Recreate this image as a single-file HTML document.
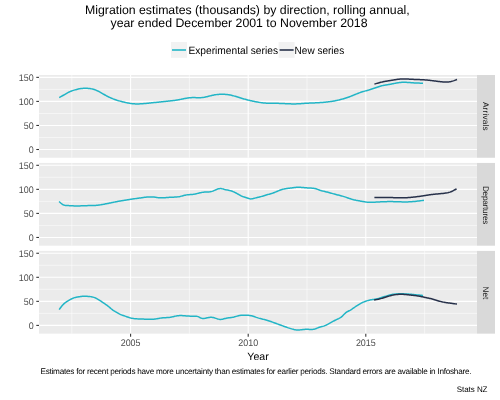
<!DOCTYPE html>
<html><head><meta charset="utf-8"><style>
html,body{margin:0;padding:0;background:#fff;width:500px;height:400px;overflow:hidden}
svg{display:block;-webkit-font-smoothing:antialiased;will-change:transform}
text{font-family:"Liberation Sans",sans-serif;text-rendering:geometricPrecision}
.ax{font-size:9.6px;fill:#4D4D4D}
.st{font-size:8.2px;fill:#1A1A1A}
.ti{font-size:12.3px;fill:#000}
.lg{font-size:10.6px;fill:#000}
.xt{font-size:10.6px;fill:#000}
.cap{font-size:8.2px;fill:#000}
.sn{font-size:8px;fill:#000}
</style></head><body>
<svg width="500" height="400" viewBox="0 0 500 400">
<rect width="500" height="400" fill="#fff"/>
<text x="85" y="14.4" class="ti">Migration estimates (thousands) by direction, rolling annual,</text>
<text x="110.5" y="27" class="ti">year ended December 2001 to November 2018</text>
<rect x="171" y="42" width="16" height="15.8" fill="#F2F2F2"/>
<line x1="172" x2="186" y1="50" y2="50" stroke="#22B5C6" stroke-width="1.6"/>
<text x="188.4" y="54" class="lg" textLength="89.6" lengthAdjust="spacingAndGlyphs">Experimental series</text>
<rect x="278.6" y="42" width="16" height="15.8" fill="#F2F2F2"/>
<line x1="279.6" x2="293.6" y1="50" y2="50" stroke="#27314A" stroke-width="1.6"/>
<text x="294.6" y="54" class="lg" textLength="49.6" lengthAdjust="spacingAndGlyphs">New series</text>
<rect x="39.00" y="75.00" width="438.00" height="82.75" fill="#EBEBEB"/>
<line x1="39.00" x2="477.00" y1="137.47" y2="137.47" stroke="#FFFFFF" stroke-width="0.53"/>
<line x1="39.00" x2="477.00" y1="113.43" y2="113.43" stroke="#FFFFFF" stroke-width="0.53"/>
<line x1="39.00" x2="477.00" y1="89.38" y2="89.38" stroke="#FFFFFF" stroke-width="0.53"/>
<line x1="71.80" x2="71.80" y1="75.00" y2="157.75" stroke="#FFFFFF" stroke-width="0.53"/>
<line x1="189.40" x2="189.40" y1="75.00" y2="157.75" stroke="#FFFFFF" stroke-width="0.53"/>
<line x1="307.00" x2="307.00" y1="75.00" y2="157.75" stroke="#FFFFFF" stroke-width="0.53"/>
<line x1="424.60" x2="424.60" y1="75.00" y2="157.75" stroke="#FFFFFF" stroke-width="0.53"/>
<line x1="39.00" x2="477.00" y1="149.50" y2="149.50" stroke="#FFFFFF" stroke-width="1.07"/>
<line x1="39.00" x2="477.00" y1="125.45" y2="125.45" stroke="#FFFFFF" stroke-width="1.07"/>
<line x1="39.00" x2="477.00" y1="101.40" y2="101.40" stroke="#FFFFFF" stroke-width="1.07"/>
<line x1="39.00" x2="477.00" y1="77.35" y2="77.35" stroke="#FFFFFF" stroke-width="1.07"/>
<line x1="130.60" x2="130.60" y1="75.00" y2="157.75" stroke="#FFFFFF" stroke-width="1.07"/>
<line x1="248.20" x2="248.20" y1="75.00" y2="157.75" stroke="#FFFFFF" stroke-width="1.07"/>
<line x1="365.80" x2="365.80" y1="75.00" y2="157.75" stroke="#FFFFFF" stroke-width="1.07"/>
<rect x="477.00" y="75.00" width="18" height="82.75" fill="#D9D9D9"/>
<line x1="36.3" x2="39" y1="149.50" y2="149.50" stroke="#333333" stroke-width="1.07"/>
<text transform="translate(33.6,152.80) scale(0.93,1)" text-anchor="end" class="ax">0</text>
<line x1="36.3" x2="39" y1="125.45" y2="125.45" stroke="#333333" stroke-width="1.07"/>
<text transform="translate(33.6,128.75) scale(0.93,1)" text-anchor="end" class="ax">50</text>
<line x1="36.3" x2="39" y1="101.40" y2="101.40" stroke="#333333" stroke-width="1.07"/>
<text transform="translate(33.6,104.70) scale(0.93,1)" text-anchor="end" class="ax">100</text>
<line x1="36.3" x2="39" y1="77.35" y2="77.35" stroke="#333333" stroke-width="1.07"/>
<text transform="translate(33.6,80.65) scale(0.93,1)" text-anchor="end" class="ax">150</text>
<text transform="translate(483.2,116.22) rotate(90)" x="-14.25" class="st" textLength="28.50" lengthAdjust="spacing">Arrivals</text>
<rect x="39.00" y="162.95" width="438.00" height="82.75" fill="#EBEBEB"/>
<line x1="39.00" x2="477.00" y1="225.42" y2="225.42" stroke="#FFFFFF" stroke-width="0.53"/>
<line x1="39.00" x2="477.00" y1="201.38" y2="201.38" stroke="#FFFFFF" stroke-width="0.53"/>
<line x1="39.00" x2="477.00" y1="177.32" y2="177.32" stroke="#FFFFFF" stroke-width="0.53"/>
<line x1="71.80" x2="71.80" y1="162.95" y2="245.70" stroke="#FFFFFF" stroke-width="0.53"/>
<line x1="189.40" x2="189.40" y1="162.95" y2="245.70" stroke="#FFFFFF" stroke-width="0.53"/>
<line x1="307.00" x2="307.00" y1="162.95" y2="245.70" stroke="#FFFFFF" stroke-width="0.53"/>
<line x1="424.60" x2="424.60" y1="162.95" y2="245.70" stroke="#FFFFFF" stroke-width="0.53"/>
<line x1="39.00" x2="477.00" y1="237.45" y2="237.45" stroke="#FFFFFF" stroke-width="1.07"/>
<line x1="39.00" x2="477.00" y1="213.40" y2="213.40" stroke="#FFFFFF" stroke-width="1.07"/>
<line x1="39.00" x2="477.00" y1="189.35" y2="189.35" stroke="#FFFFFF" stroke-width="1.07"/>
<line x1="39.00" x2="477.00" y1="165.30" y2="165.30" stroke="#FFFFFF" stroke-width="1.07"/>
<line x1="130.60" x2="130.60" y1="162.95" y2="245.70" stroke="#FFFFFF" stroke-width="1.07"/>
<line x1="248.20" x2="248.20" y1="162.95" y2="245.70" stroke="#FFFFFF" stroke-width="1.07"/>
<line x1="365.80" x2="365.80" y1="162.95" y2="245.70" stroke="#FFFFFF" stroke-width="1.07"/>
<rect x="477.00" y="162.95" width="18" height="82.75" fill="#D9D9D9"/>
<line x1="36.3" x2="39" y1="237.45" y2="237.45" stroke="#333333" stroke-width="1.07"/>
<text transform="translate(33.6,240.75) scale(0.93,1)" text-anchor="end" class="ax">0</text>
<line x1="36.3" x2="39" y1="213.40" y2="213.40" stroke="#333333" stroke-width="1.07"/>
<text transform="translate(33.6,216.70) scale(0.93,1)" text-anchor="end" class="ax">50</text>
<line x1="36.3" x2="39" y1="189.35" y2="189.35" stroke="#333333" stroke-width="1.07"/>
<text transform="translate(33.6,192.65) scale(0.93,1)" text-anchor="end" class="ax">100</text>
<line x1="36.3" x2="39" y1="165.30" y2="165.30" stroke="#333333" stroke-width="1.07"/>
<text transform="translate(33.6,168.60) scale(0.93,1)" text-anchor="end" class="ax">150</text>
<text transform="translate(483.2,205.12) rotate(90)" x="-19.20" class="st" textLength="38.40" lengthAdjust="spacing">Departures</text>
<rect x="39.00" y="250.90" width="438.00" height="82.75" fill="#EBEBEB"/>
<line x1="39.00" x2="477.00" y1="313.38" y2="313.38" stroke="#FFFFFF" stroke-width="0.53"/>
<line x1="39.00" x2="477.00" y1="289.32" y2="289.32" stroke="#FFFFFF" stroke-width="0.53"/>
<line x1="39.00" x2="477.00" y1="265.27" y2="265.27" stroke="#FFFFFF" stroke-width="0.53"/>
<line x1="71.80" x2="71.80" y1="250.90" y2="333.65" stroke="#FFFFFF" stroke-width="0.53"/>
<line x1="189.40" x2="189.40" y1="250.90" y2="333.65" stroke="#FFFFFF" stroke-width="0.53"/>
<line x1="307.00" x2="307.00" y1="250.90" y2="333.65" stroke="#FFFFFF" stroke-width="0.53"/>
<line x1="424.60" x2="424.60" y1="250.90" y2="333.65" stroke="#FFFFFF" stroke-width="0.53"/>
<line x1="39.00" x2="477.00" y1="325.40" y2="325.40" stroke="#FFFFFF" stroke-width="1.07"/>
<line x1="39.00" x2="477.00" y1="301.35" y2="301.35" stroke="#FFFFFF" stroke-width="1.07"/>
<line x1="39.00" x2="477.00" y1="277.30" y2="277.30" stroke="#FFFFFF" stroke-width="1.07"/>
<line x1="39.00" x2="477.00" y1="253.25" y2="253.25" stroke="#FFFFFF" stroke-width="1.07"/>
<line x1="130.60" x2="130.60" y1="250.90" y2="333.65" stroke="#FFFFFF" stroke-width="1.07"/>
<line x1="248.20" x2="248.20" y1="250.90" y2="333.65" stroke="#FFFFFF" stroke-width="1.07"/>
<line x1="365.80" x2="365.80" y1="250.90" y2="333.65" stroke="#FFFFFF" stroke-width="1.07"/>
<rect x="477.00" y="250.90" width="18" height="82.75" fill="#D9D9D9"/>
<line x1="36.3" x2="39" y1="325.40" y2="325.40" stroke="#333333" stroke-width="1.07"/>
<text transform="translate(33.6,328.70) scale(0.93,1)" text-anchor="end" class="ax">0</text>
<line x1="36.3" x2="39" y1="301.35" y2="301.35" stroke="#333333" stroke-width="1.07"/>
<text transform="translate(33.6,304.65) scale(0.93,1)" text-anchor="end" class="ax">50</text>
<line x1="36.3" x2="39" y1="277.30" y2="277.30" stroke="#333333" stroke-width="1.07"/>
<text transform="translate(33.6,280.60) scale(0.93,1)" text-anchor="end" class="ax">100</text>
<line x1="36.3" x2="39" y1="253.25" y2="253.25" stroke="#333333" stroke-width="1.07"/>
<text transform="translate(33.6,256.55) scale(0.93,1)" text-anchor="end" class="ax">150</text>
<text transform="translate(483.2,292.97) rotate(90)" x="-6.40" class="st" textLength="12.80" lengthAdjust="spacing">Net</text>
<path d="M59.20,97.60 L60.03,97.13 L60.86,96.67 L61.69,96.20 L62.51,95.73 L63.34,95.25 L64.17,94.78 L65.00,94.30 L65.83,93.82 L66.67,93.33 L67.50,92.86 L68.33,92.41 L69.17,91.99 L70.00,91.60 L70.83,91.25 L71.67,90.93 L72.50,90.65 L73.33,90.39 L74.17,90.14 L75.00,89.90 L75.83,89.67 L76.67,89.44 L77.50,89.23 L78.33,89.03 L79.17,88.85 L80.00,88.70 L80.83,88.57 L81.67,88.48 L82.50,88.40 L83.33,88.35 L84.17,88.31 L85.00,88.30 L85.83,88.30 L86.67,88.32 L87.50,88.36 L88.33,88.42 L89.17,88.50 L90.00,88.60 L90.83,88.73 L91.67,88.88 L92.50,89.07 L93.33,89.28 L94.17,89.52 L95.00,89.80 L95.83,90.11 L96.67,90.45 L97.50,90.83 L98.33,91.23 L99.17,91.65 L100.00,92.10 L100.83,92.57 L101.67,93.05 L102.50,93.54 L103.33,94.03 L104.17,94.52 L105.00,95.00 L105.75,95.42 L106.50,95.83 L107.25,96.22 L108.00,96.60 L108.75,96.97 L109.50,97.33 L110.25,97.67 L111.00,98.00 L111.75,98.32 L112.50,98.62 L113.25,98.92 L114.00,99.20 L114.75,99.47 L115.50,99.73 L116.25,99.98 L117.00,100.23 L117.75,100.46 L118.50,100.69 L119.25,100.90 L120.00,101.12 L120.75,101.32 L121.50,101.52 L122.25,101.71 L123.00,101.90 L123.77,102.09 L124.54,102.27 L125.31,102.45 L126.09,102.62 L126.86,102.78 L127.63,102.94 L128.40,103.08 L129.17,103.22 L129.94,103.35 L130.71,103.46 L131.49,103.57 L132.26,103.66 L133.03,103.74 L133.80,103.80 L134.57,103.85 L135.34,103.89 L136.11,103.91 L136.89,103.92 L137.66,103.93 L138.43,103.92 L139.20,103.90 L139.97,103.87 L140.74,103.83 L141.51,103.78 L142.29,103.73 L143.06,103.67 L143.83,103.61 L144.60,103.54 L145.37,103.47 L146.14,103.40 L146.91,103.32 L147.69,103.24 L148.46,103.16 L149.23,103.08 L150.00,103.00 L150.77,102.92 L151.54,102.84 L152.31,102.77 L153.08,102.69 L153.85,102.62 L154.62,102.54 L155.38,102.47 L156.15,102.39 L156.92,102.31 L157.69,102.24 L158.46,102.16 L159.23,102.08 L160.00,102.00 L160.77,101.92 L161.54,101.83 L162.31,101.75 L163.08,101.66 L163.85,101.58 L164.62,101.49 L165.38,101.40 L166.15,101.32 L166.92,101.23 L167.69,101.15 L168.46,101.06 L169.23,100.98 L170.00,100.90 L170.75,100.82 L171.50,100.75 L172.25,100.67 L173.00,100.58 L173.75,100.50 L174.50,100.41 L175.25,100.31 L176.00,100.20 L176.76,100.08 L177.52,99.95 L178.29,99.81 L179.05,99.67 L179.81,99.52 L180.57,99.37 L181.33,99.21 L182.10,99.06 L182.86,98.90 L183.62,98.75 L184.38,98.60 L185.14,98.45 L185.90,98.31 L186.67,98.18 L187.43,98.06 L188.19,97.95 L188.95,97.85 L189.71,97.76 L190.48,97.69 L191.24,97.64 L192.00,97.60 L192.80,97.58 L193.60,97.58 L194.40,97.59 L195.20,97.61 L196.00,97.63 L196.80,97.66 L197.60,97.68 L198.40,97.70 L199.20,97.70 L200.00,97.69 L200.80,97.66 L201.60,97.60 L202.38,97.52 L203.15,97.42 L203.92,97.30 L204.70,97.16 L205.47,97.00 L206.25,96.83 L207.03,96.65 L207.80,96.46 L208.57,96.27 L209.35,96.08 L210.12,95.88 L210.90,95.69 L211.68,95.50 L212.45,95.32 L213.22,95.16 L214.00,95.00 L214.77,94.86 L215.54,94.74 L216.31,94.63 L217.08,94.53 L217.85,94.45 L218.62,94.39 L219.38,94.34 L220.15,94.30 L220.92,94.27 L221.69,94.26 L222.46,94.26 L223.23,94.27 L224.00,94.30 L224.83,94.34 L225.67,94.40 L226.50,94.47 L227.33,94.56 L228.17,94.67 L229.00,94.80 L229.79,94.94 L230.57,95.10 L231.36,95.28 L232.14,95.47 L232.93,95.67 L233.71,95.89 L234.50,96.11 L235.29,96.34 L236.07,96.58 L236.86,96.82 L237.64,97.07 L238.43,97.31 L239.21,97.56 L240.00,97.80 L240.76,98.03 L241.52,98.26 L242.29,98.48 L243.05,98.70 L243.81,98.92 L244.57,99.13 L245.33,99.33 L246.10,99.54 L246.86,99.74 L247.62,99.93 L248.38,100.12 L249.14,100.31 L249.90,100.49 L250.67,100.67 L251.43,100.84 L252.19,101.01 L252.95,101.18 L253.71,101.34 L254.48,101.50 L255.24,101.65 L256.00,101.80 L256.80,101.95 L257.60,102.10 L258.40,102.24 L259.20,102.37 L260.00,102.50 L260.80,102.62 L261.60,102.73 L262.40,102.83 L263.20,102.92 L264.00,103.00 L264.76,103.07 L265.52,103.12 L266.29,103.17 L267.05,103.21 L267.81,103.25 L268.57,103.27 L269.33,103.30 L270.10,103.31 L270.86,103.32 L271.62,103.33 L272.38,103.34 L273.14,103.34 L273.90,103.34 L274.67,103.35 L275.43,103.35 L276.19,103.35 L276.95,103.35 L277.71,103.36 L278.48,103.37 L279.24,103.38 L280.00,103.40 L280.76,103.42 L281.52,103.45 L282.29,103.48 L283.05,103.51 L283.81,103.55 L284.57,103.59 L285.33,103.63 L286.10,103.66 L286.86,103.70 L287.62,103.74 L288.38,103.78 L289.14,103.81 L289.90,103.84 L290.67,103.87 L291.43,103.89 L292.19,103.91 L292.95,103.92 L293.71,103.93 L294.48,103.93 L295.24,103.92 L296.00,103.90 L296.80,103.87 L297.60,103.84 L298.40,103.79 L299.20,103.74 L300.00,103.69 L300.80,103.63 L301.60,103.57 L302.40,103.51 L303.20,103.46 L304.00,103.40 L304.76,103.35 L305.52,103.30 L306.29,103.26 L307.05,103.22 L307.81,103.18 L308.57,103.14 L309.33,103.11 L310.10,103.07 L310.86,103.04 L311.62,103.01 L312.38,102.98 L313.14,102.94 L313.90,102.91 L314.67,102.88 L315.43,102.84 L316.19,102.81 L316.95,102.77 L317.71,102.73 L318.48,102.69 L319.24,102.65 L320.00,102.60 L320.76,102.55 L321.52,102.50 L322.29,102.44 L323.05,102.38 L323.81,102.31 L324.57,102.24 L325.33,102.17 L326.10,102.09 L326.86,102.01 L327.62,101.92 L328.38,101.83 L329.14,101.73 L329.90,101.63 L330.67,101.52 L331.43,101.41 L332.19,101.29 L332.95,101.17 L333.71,101.03 L334.48,100.90 L335.24,100.75 L336.00,100.60 L336.76,100.44 L337.52,100.28 L338.29,100.11 L339.05,99.93 L339.81,99.74 L340.57,99.55 L341.33,99.35 L342.10,99.14 L342.86,98.93 L343.62,98.71 L344.38,98.48 L345.14,98.24 L345.90,98.00 L346.67,97.75 L347.43,97.49 L348.19,97.23 L348.95,96.96 L349.71,96.68 L350.48,96.39 L351.24,96.10 L352.00,95.80 L352.80,95.48 L353.60,95.15 L354.40,94.81 L355.20,94.48 L356.00,94.15 L356.80,93.82 L357.60,93.50 L358.40,93.19 L359.20,92.89 L360.00,92.60 L360.80,92.33 L361.60,92.07 L362.40,91.82 L363.20,91.59 L364.00,91.35 L364.80,91.13 L365.60,90.90 L366.40,90.67 L367.20,90.44 L368.00,90.20 L368.76,89.97 L369.52,89.72 L370.29,89.48 L371.05,89.22 L371.81,88.97 L372.57,88.71 L373.33,88.45 L374.10,88.19 L374.86,87.93 L375.62,87.68 L376.38,87.42 L377.14,87.17 L377.90,86.93 L378.67,86.69 L379.43,86.46 L380.19,86.24 L380.95,86.03 L381.71,85.83 L382.48,85.64 L383.24,85.46 L384.00,85.30 L384.75,85.15 L385.50,85.02 L386.25,84.90 L387.00,84.78 L387.75,84.66 L388.50,84.55 L389.25,84.43 L390.00,84.30 L390.79,84.16 L391.57,84.01 L392.36,83.86 L393.14,83.70 L393.93,83.54 L394.71,83.38 L395.50,83.22 L396.29,83.07 L397.07,82.93 L397.86,82.80 L398.64,82.67 L399.43,82.57 L400.21,82.47 L401.00,82.40 L401.76,82.35 L402.53,82.31 L403.29,82.29 L404.06,82.29 L404.82,82.30 L405.59,82.32 L406.35,82.35 L407.12,82.39 L407.88,82.44 L408.65,82.49 L409.41,82.55 L410.18,82.61 L410.94,82.67 L411.71,82.73 L412.47,82.79 L413.24,82.85 L414.00,82.90 L414.75,82.95 L415.50,82.99 L416.25,83.02 L417.00,83.05 L417.75,83.08 L418.50,83.10 L419.25,83.12 L420.00,83.14 L420.75,83.16 L421.50,83.17 L422.25,83.19 L423.00,83.20" fill="none" stroke="#22B5C6" stroke-width="1.5"/>
<path d="M59.10,201.50 L59.92,202.29 L60.75,203.04 L61.58,203.72 L62.40,204.30 L63.17,204.72 L63.95,205.03 L64.72,205.26 L65.50,205.41 L66.27,205.50 L67.05,205.55 L67.82,205.58 L68.60,205.60 L69.36,205.63 L70.13,205.67 L70.89,205.71 L71.65,205.76 L72.42,205.81 L73.18,205.86 L73.95,205.90 L74.71,205.94 L75.47,205.97 L76.24,205.99 L77.00,206.00 L77.78,205.99 L78.56,205.97 L79.33,205.94 L80.11,205.91 L80.89,205.86 L81.67,205.82 L82.44,205.78 L83.22,205.73 L84.00,205.70 L84.78,205.67 L85.56,205.65 L86.33,205.64 L87.11,205.63 L87.89,205.62 L88.67,205.62 L89.44,205.62 L90.22,205.61 L91.00,205.60 L91.78,205.59 L92.56,205.57 L93.33,205.54 L94.11,205.51 L94.89,205.47 L95.67,205.42 L96.44,205.36 L97.22,205.29 L98.00,205.20 L98.78,205.10 L99.56,204.99 L100.33,204.87 L101.11,204.74 L101.89,204.60 L102.67,204.45 L103.44,204.31 L104.22,204.15 L105.00,204.00 L105.78,203.85 L106.56,203.69 L107.33,203.54 L108.11,203.39 L108.89,203.23 L109.67,203.08 L110.44,202.92 L111.22,202.76 L112.00,202.60 L112.78,202.44 L113.56,202.28 L114.33,202.11 L115.11,201.95 L115.89,201.79 L116.67,201.64 L117.44,201.49 L118.22,201.34 L119.00,201.20 L119.78,201.07 L120.56,200.94 L121.33,200.82 L122.11,200.70 L122.89,200.59 L123.67,200.47 L124.44,200.35 L125.22,200.23 L126.00,200.10 L126.77,199.97 L127.53,199.83 L128.30,199.70 L129.07,199.56 L129.83,199.43 L130.60,199.30 L131.38,199.18 L132.17,199.06 L132.95,198.95 L133.73,198.84 L134.52,198.73 L135.30,198.63 L136.08,198.53 L136.87,198.43 L137.65,198.32 L138.43,198.22 L139.22,198.11 L140.00,198.00 L140.75,197.89 L141.50,197.77 L142.25,197.66 L143.00,197.54 L143.75,197.43 L144.50,197.33 L145.25,197.23 L146.00,197.14 L146.75,197.06 L147.50,196.99 L148.25,196.94 L149.00,196.90 L149.75,196.88 L150.50,196.88 L151.25,196.90 L152.00,196.93 L152.75,196.98 L153.50,197.04 L154.25,197.11 L155.00,197.20 L155.83,197.31 L156.67,197.42 L157.50,197.54 L158.33,197.64 L159.17,197.73 L160.00,197.80 L160.77,197.84 L161.54,197.85 L162.31,197.84 L163.08,197.82 L163.85,197.78 L164.62,197.73 L165.38,197.68 L166.15,197.61 L166.92,197.54 L167.69,197.48 L168.46,197.41 L169.23,197.35 L170.00,197.30 L170.77,197.26 L171.54,197.22 L172.31,197.19 L173.08,197.17 L173.85,197.14 L174.62,197.11 L175.38,197.07 L176.15,197.02 L176.92,196.95 L177.69,196.87 L178.46,196.77 L179.23,196.65 L180.00,196.50 L180.75,196.33 L181.50,196.14 L182.25,195.94 L183.00,195.73 L183.75,195.53 L184.50,195.33 L185.25,195.15 L186.00,195.00 L186.80,194.87 L187.60,194.77 L188.40,194.69 L189.20,194.63 L190.00,194.58 L190.80,194.53 L191.60,194.47 L192.40,194.40 L193.20,194.31 L194.00,194.20 L194.75,194.07 L195.50,193.91 L196.25,193.73 L197.00,193.55 L197.75,193.35 L198.50,193.16 L199.25,192.98 L200.00,192.80 L200.75,192.64 L201.50,192.50 L202.25,192.37 L203.00,192.26 L203.75,192.17 L204.50,192.10 L205.25,192.04 L206.00,192.00 L206.75,191.97 L207.50,191.95 L208.25,191.93 L209.00,191.89 L209.75,191.83 L210.50,191.74 L211.25,191.60 L212.00,191.40 L212.80,191.12 L213.60,190.80 L214.40,190.43 L215.20,190.06 L216.00,189.70 L216.83,189.35 L217.67,189.06 L218.50,188.82 L219.33,188.65 L220.17,188.58 L221.00,188.60 L221.75,188.71 L222.50,188.89 L223.25,189.09 L224.00,189.30 L224.75,189.49 L225.50,189.65 L226.25,189.81 L227.00,189.95 L227.75,190.10 L228.50,190.25 L229.25,190.41 L230.00,190.60 L230.75,190.81 L231.50,191.05 L232.25,191.31 L233.00,191.60 L233.75,191.92 L234.50,192.26 L235.25,192.62 L236.00,193.00 L236.75,193.40 L237.50,193.82 L238.25,194.25 L239.00,194.67 L239.75,195.08 L240.50,195.48 L241.25,195.86 L242.00,196.20 L242.75,196.51 L243.50,196.78 L244.25,197.03 L245.00,197.27 L245.75,197.50 L246.50,197.72 L247.25,197.95 L248.00,198.20 L249.00,198.54 L250.00,198.80 L250.83,198.88 L251.67,198.85 L252.50,198.73 L253.33,198.55 L254.17,198.33 L255.00,198.10 L255.75,197.90 L256.50,197.71 L257.25,197.53 L258.00,197.35 L258.75,197.17 L259.50,196.99 L260.25,196.80 L261.00,196.60 L261.75,196.39 L262.50,196.17 L263.25,195.95 L264.00,195.72 L264.75,195.48 L265.50,195.25 L266.25,195.02 L267.00,194.80 L267.75,194.58 L268.50,194.37 L269.25,194.16 L270.00,193.95 L270.75,193.73 L271.50,193.50 L272.25,193.26 L273.00,193.00 L273.75,192.72 L274.50,192.43 L275.25,192.13 L276.00,191.82 L276.75,191.51 L277.50,191.20 L278.25,190.90 L279.00,190.60 L279.75,190.32 L280.50,190.05 L281.25,189.79 L282.00,189.56 L282.75,189.34 L283.50,189.14 L284.25,188.96 L285.00,188.80 L285.75,188.66 L286.50,188.54 L287.25,188.44 L288.00,188.35 L288.75,188.26 L289.50,188.18 L290.25,188.09 L291.00,188.00 L291.75,187.90 L292.50,187.80 L293.25,187.70 L294.00,187.60 L294.75,187.50 L295.50,187.42 L296.25,187.35 L297.00,187.30 L297.75,187.27 L298.50,187.26 L299.25,187.27 L300.00,187.30 L300.75,187.33 L301.50,187.38 L302.25,187.44 L303.00,187.50 L303.75,187.57 L304.50,187.63 L305.25,187.70 L306.00,187.77 L306.75,187.84 L307.50,187.90 L308.25,187.95 L309.00,188.00 L309.75,188.04 L310.50,188.08 L311.25,188.12 L312.00,188.17 L312.75,188.24 L313.50,188.33 L314.25,188.45 L315.00,188.60 L315.83,188.81 L316.67,189.06 L317.50,189.34 L318.33,189.63 L319.17,189.92 L320.00,190.20 L320.80,190.45 L321.60,190.69 L322.40,190.91 L323.20,191.12 L324.00,191.32 L324.80,191.52 L325.60,191.71 L326.40,191.90 L327.20,192.10 L328.00,192.30 L328.80,192.51 L329.60,192.72 L330.40,192.94 L331.20,193.17 L332.00,193.39 L332.80,193.62 L333.60,193.85 L334.40,194.07 L335.20,194.29 L336.00,194.50 L336.80,194.71 L337.60,194.91 L338.40,195.10 L339.20,195.30 L340.00,195.50 L340.80,195.70 L341.60,195.91 L342.40,196.13 L343.20,196.36 L344.00,196.60 L344.80,196.86 L345.60,197.13 L346.40,197.41 L347.20,197.69 L348.00,197.97 L348.80,198.26 L349.60,198.53 L350.40,198.80 L351.20,199.06 L352.00,199.30 L352.80,199.52 L353.60,199.73 L354.40,199.92 L355.20,200.09 L356.00,200.26 L356.80,200.41 L357.60,200.56 L358.40,200.71 L359.20,200.86 L360.00,201.00 L360.80,201.15 L361.60,201.29 L362.40,201.44 L363.20,201.58 L364.00,201.71 L364.80,201.84 L365.60,201.95 L366.40,202.05 L367.20,202.13 L368.00,202.20 L368.80,202.25 L369.60,202.28 L370.40,202.29 L371.20,202.29 L372.00,202.27 L372.80,202.25 L373.60,202.22 L374.40,202.18 L375.20,202.14 L376.00,202.10 L376.76,202.06 L377.52,202.02 L378.29,201.98 L379.05,201.94 L379.81,201.90 L380.57,201.86 L381.33,201.83 L382.10,201.79 L382.86,201.76 L383.62,201.73 L384.38,201.71 L385.14,201.68 L385.90,201.66 L386.67,201.64 L387.43,201.62 L388.19,201.61 L388.95,201.60 L389.71,201.59 L390.48,201.59 L391.24,201.59 L392.00,201.60 L392.76,201.61 L393.52,201.63 L394.29,201.65 L395.05,201.67 L395.81,201.69 L396.57,201.72 L397.33,201.74 L398.10,201.77 L398.86,201.80 L399.62,201.82 L400.38,201.85 L401.14,201.87 L401.90,201.89 L402.67,201.91 L403.43,201.92 L404.19,201.93 L404.95,201.94 L405.71,201.94 L406.48,201.93 L407.24,201.92 L408.00,201.90 L408.80,201.87 L409.60,201.83 L410.40,201.79 L411.20,201.74 L412.00,201.68 L412.80,201.61 L413.60,201.54 L414.40,201.47 L415.20,201.39 L416.00,201.30 L416.80,201.21 L417.60,201.12 L418.40,201.02 L419.20,200.92 L420.00,200.82 L420.80,200.72 L421.60,200.62 L422.40,200.51 L423.20,200.41 L424.00,200.30" fill="none" stroke="#22B5C6" stroke-width="1.5"/>
<path d="M59.20,309.60 L59.96,308.54 L60.72,307.49 L61.48,306.49 L62.24,305.56 L63.00,304.70 L63.83,303.87 L64.67,303.15 L65.50,302.52 L66.33,301.94 L67.17,301.41 L68.00,300.90 L68.83,300.39 L69.67,299.90 L70.50,299.42 L71.33,298.97 L72.17,298.56 L73.00,298.20 L73.83,297.89 L74.67,297.63 L75.50,297.40 L76.33,297.21 L77.17,297.05 L78.00,296.90 L78.83,296.76 L79.67,296.64 L80.50,296.52 L81.33,296.43 L82.17,296.35 L83.00,296.30 L83.83,296.27 L84.67,296.27 L85.50,296.28 L86.33,296.31 L87.17,296.35 L88.00,296.40 L88.83,296.46 L89.67,296.53 L90.50,296.62 L91.33,296.74 L92.17,296.90 L93.00,297.10 L93.83,297.35 L94.67,297.65 L95.50,298.00 L96.33,298.39 L97.17,298.83 L98.00,299.30 L98.83,299.81 L99.67,300.34 L100.50,300.90 L101.33,301.46 L102.17,302.03 L103.00,302.60 L103.83,303.16 L104.67,303.72 L105.50,304.28 L106.33,304.86 L107.17,305.46 L108.00,306.10 L108.80,306.75 L109.60,307.42 L110.40,308.09 L111.20,308.76 L112.00,309.40 L112.84,310.03 L113.68,310.62 L114.52,311.17 L115.36,311.70 L116.20,312.20 L117.08,312.71 L117.96,313.20 L118.84,313.67 L119.72,314.10 L120.60,314.50 L121.48,314.86 L122.36,315.19 L123.24,315.50 L124.12,315.80 L125.00,316.10 L125.83,316.40 L126.67,316.70 L127.50,317.00 L128.33,317.28 L129.17,317.56 L130.00,317.80 L130.80,318.01 L131.60,318.18 L132.40,318.34 L133.20,318.46 L134.00,318.57 L134.80,318.66 L135.60,318.74 L136.40,318.80 L137.20,318.86 L138.00,318.90 L138.80,318.94 L139.60,318.97 L140.40,319.01 L141.20,319.03 L142.00,319.06 L142.80,319.09 L143.60,319.11 L144.40,319.14 L145.20,319.17 L146.00,319.20 L146.80,319.23 L147.60,319.27 L148.40,319.30 L149.20,319.33 L150.00,319.34 L150.80,319.35 L151.60,319.34 L152.40,319.32 L153.20,319.27 L154.00,319.20 L154.80,319.10 L155.60,318.99 L156.40,318.86 L157.20,318.71 L158.00,318.56 L158.80,318.41 L159.60,318.26 L160.40,318.13 L161.20,318.00 L162.00,317.90 L162.80,317.82 L163.60,317.76 L164.40,317.71 L165.20,317.67 L166.00,317.63 L166.80,317.59 L167.60,317.55 L168.40,317.49 L169.20,317.40 L170.00,317.30 L170.80,317.17 L171.60,317.01 L172.40,316.84 L173.20,316.65 L174.00,316.47 L174.80,316.28 L175.60,316.11 L176.40,315.95 L177.20,315.81 L178.00,315.70 L178.80,315.63 L179.60,315.58 L180.40,315.57 L181.20,315.58 L182.00,315.60 L182.80,315.65 L183.60,315.70 L184.40,315.77 L185.20,315.83 L186.00,315.90 L186.80,315.96 L187.60,316.02 L188.40,316.07 L189.20,316.12 L190.00,316.16 L190.80,316.18 L191.60,316.20 L192.40,316.21 L193.20,316.21 L194.00,316.20 L194.80,316.18 L195.60,316.18 L196.40,316.23 L197.20,316.36 L198.00,316.60 L198.75,316.94 L199.50,317.35 L200.25,317.76 L201.00,318.10 L201.77,318.33 L202.54,318.45 L203.31,318.48 L204.09,318.43 L204.86,318.32 L205.63,318.17 L206.40,318.00 L207.15,317.84 L207.90,317.68 L208.65,317.54 L209.40,317.43 L210.15,317.35 L210.90,317.31 L211.65,317.33 L212.40,317.40 L213.30,317.57 L214.20,317.81 L215.10,318.10 L216.00,318.40 L216.80,318.66 L217.60,318.91 L218.40,319.12 L219.20,319.28 L220.00,319.38 L220.80,319.40 L221.60,319.34 L222.40,319.21 L223.20,319.03 L224.00,318.82 L224.80,318.60 L225.60,318.40 L226.36,318.23 L227.13,318.09 L227.89,317.97 L228.65,317.86 L229.42,317.75 L230.18,317.66 L230.95,317.55 L231.71,317.44 L232.47,317.32 L233.24,317.17 L234.00,317.00 L234.75,316.80 L235.50,316.59 L236.25,316.36 L237.00,316.13 L237.75,315.92 L238.50,315.71 L239.25,315.54 L240.00,315.40 L240.80,315.30 L241.60,315.24 L242.40,315.21 L243.20,315.20 L244.00,315.20 L244.75,315.20 L245.50,315.20 L246.25,315.20 L247.00,315.22 L247.75,315.25 L248.50,315.31 L249.25,315.39 L250.00,315.50 L250.80,315.66 L251.60,315.84 L252.40,316.06 L253.20,316.30 L254.00,316.56 L254.80,316.83 L255.60,317.10 L256.40,317.38 L257.20,317.64 L258.00,317.90 L258.80,318.14 L259.60,318.36 L260.40,318.57 L261.20,318.78 L262.00,318.98 L262.80,319.17 L263.60,319.37 L264.40,319.57 L265.20,319.78 L266.00,320.00 L266.80,320.23 L267.60,320.48 L268.40,320.73 L269.20,321.00 L270.00,321.27 L270.80,321.55 L271.60,321.83 L272.40,322.12 L273.20,322.41 L274.00,322.70 L274.80,322.99 L275.60,323.28 L276.40,323.57 L277.20,323.86 L278.00,324.15 L278.80,324.44 L279.60,324.73 L280.40,325.02 L281.20,325.31 L282.00,325.60 L282.80,325.89 L283.60,326.18 L284.40,326.47 L285.20,326.76 L286.00,327.04 L286.80,327.33 L287.60,327.60 L288.40,327.88 L289.20,328.14 L290.00,328.40 L290.80,328.65 L291.60,328.89 L292.40,329.12 L293.20,329.32 L294.00,329.51 L294.80,329.67 L295.60,329.80 L296.40,329.90 L297.20,329.97 L298.00,330.00 L298.80,329.99 L299.60,329.94 L300.40,329.87 L301.20,329.78 L302.00,329.68 L302.80,329.58 L303.60,329.48 L304.40,329.40 L305.20,329.33 L306.00,329.30 L306.80,329.30 L307.60,329.32 L308.40,329.36 L309.20,329.41 L310.00,329.45 L310.80,329.47 L311.60,329.47 L312.40,329.43 L313.20,329.34 L314.00,329.20 L314.77,329.00 L315.54,328.75 L316.31,328.47 L317.09,328.17 L317.86,327.86 L318.63,327.57 L319.40,327.30 L320.26,327.04 L321.12,326.82 L321.98,326.60 L322.84,326.37 L323.70,326.10 L324.58,325.78 L325.46,325.41 L326.34,325.00 L327.22,324.56 L328.10,324.10 L328.98,323.63 L329.86,323.16 L330.74,322.67 L331.62,322.19 L332.50,321.70 L333.38,321.21 L334.26,320.73 L335.14,320.26 L336.02,319.82 L336.90,319.40 L337.76,319.02 L338.62,318.64 L339.48,318.21 L340.34,317.71 L341.20,317.10 L342.08,316.33 L342.96,315.46 L343.84,314.56 L344.72,313.69 L345.60,312.90 L346.48,312.24 L347.36,311.70 L348.24,311.22 L349.12,310.77 L350.00,310.30 L350.83,309.82 L351.67,309.29 L352.50,308.74 L353.33,308.17 L354.17,307.58 L355.00,307.00 L355.83,306.42 L356.67,305.86 L357.50,305.31 L358.33,304.78 L359.17,304.28 L360.00,303.80 L360.83,303.35 L361.67,302.93 L362.50,302.54 L363.33,302.17 L364.17,301.83 L365.00,301.50 L365.83,301.19 L366.67,300.91 L367.50,300.64 L368.33,300.40 L369.17,300.19 L370.00,300.00 L370.83,299.84 L371.67,299.70 L372.50,299.58 L373.33,299.46 L374.17,299.34 L375.00,299.20 L375.83,299.04 L376.67,298.87 L377.50,298.67 L378.33,298.46 L379.17,298.24 L380.00,298.00 L380.75,297.78 L381.50,297.55 L382.25,297.31 L383.00,297.07 L383.75,296.82 L384.50,296.58 L385.25,296.34 L386.00,296.10 L386.75,295.86 L387.50,295.64 L388.25,295.42 L389.00,295.21 L389.75,295.01 L390.50,294.82 L391.25,294.65 L392.00,294.50 L392.75,294.36 L393.50,294.25 L394.25,294.15 L395.00,294.06 L395.75,293.99 L396.50,293.93 L397.25,293.88 L398.00,293.85 L398.75,293.82 L399.50,293.81 L400.25,293.80 L401.00,293.80 L401.75,293.80 L402.50,293.82 L403.25,293.83 L404.00,293.85 L404.75,293.88 L405.50,293.91 L406.25,293.95 L407.00,293.99 L407.75,294.04 L408.50,294.09 L409.25,294.14 L410.00,294.20 L410.77,294.26 L411.54,294.33 L412.31,294.40 L413.08,294.48 L413.85,294.55 L414.62,294.63 L415.38,294.71 L416.15,294.79 L416.92,294.88 L417.69,294.96 L418.46,295.04 L419.23,295.12 L420.00,295.20 L420.75,295.28 L421.50,295.35 L422.25,295.43 L423.00,295.50" fill="none" stroke="#22B5C6" stroke-width="1.5"/>
<path d="M374.40,84.10 L375.20,83.87 L376.00,83.63 L376.80,83.40 L377.60,83.18 L378.40,82.95 L379.20,82.74 L380.00,82.53 L380.80,82.32 L381.60,82.13 L382.40,81.94 L383.20,81.76 L384.00,81.60 L384.75,81.46 L385.50,81.32 L386.25,81.20 L387.00,81.07 L387.75,80.96 L388.50,80.84 L389.25,80.72 L390.00,80.60 L390.77,80.47 L391.54,80.34 L392.31,80.21 L393.08,80.07 L393.85,79.94 L394.62,79.81 L395.38,79.68 L396.15,79.56 L396.92,79.45 L397.69,79.35 L398.46,79.25 L399.23,79.17 L400.00,79.10 L400.78,79.04 L401.56,79.00 L402.33,78.98 L403.11,78.96 L403.89,78.96 L404.67,78.96 L405.44,78.97 L406.22,79.00 L407.00,79.02 L407.78,79.06 L408.56,79.10 L409.33,79.14 L410.11,79.18 L410.89,79.23 L411.67,79.27 L412.44,79.32 L413.22,79.36 L414.00,79.40 L414.79,79.44 L415.57,79.47 L416.36,79.50 L417.14,79.53 L417.93,79.56 L418.71,79.59 L419.50,79.61 L420.29,79.64 L421.07,79.68 L421.86,79.71 L422.64,79.75 L423.43,79.80 L424.21,79.84 L425.00,79.90 L425.76,79.96 L426.53,80.03 L427.29,80.10 L428.06,80.18 L428.82,80.26 L429.59,80.34 L430.35,80.43 L431.12,80.52 L431.88,80.62 L432.65,80.72 L433.41,80.81 L434.18,80.91 L434.94,81.01 L435.71,81.11 L436.47,81.21 L437.24,81.30 L438.00,81.40 L438.80,81.50 L439.60,81.59 L440.40,81.68 L441.20,81.76 L442.00,81.83 L442.80,81.89 L443.60,81.94 L444.40,81.97 L445.20,82.00 L446.00,82.00 L446.83,81.99 L447.67,81.95 L448.50,81.88 L449.33,81.79 L450.17,81.66 L451.00,81.50 L451.75,81.32 L452.50,81.11 L453.25,80.88 L454.00,80.63 L454.75,80.36 L455.50,80.08 L456.25,79.79 L457.00,79.50" fill="none" stroke="#27314A" stroke-width="1.5"/>
<path d="M374.40,197.60 L375.17,197.59 L375.93,197.59 L376.70,197.58 L377.46,197.57 L378.23,197.57 L378.99,197.56 L379.76,197.56 L380.52,197.55 L381.29,197.55 L382.05,197.54 L382.82,197.54 L383.58,197.54 L384.35,197.54 L385.11,197.54 L385.88,197.54 L386.64,197.54 L387.41,197.55 L388.17,197.55 L388.94,197.56 L389.70,197.57 L390.47,197.58 L391.23,197.59 L392.00,197.60 L392.76,197.61 L393.52,197.63 L394.29,197.65 L395.05,197.67 L395.81,197.68 L396.57,197.70 L397.33,197.72 L398.10,197.73 L398.86,197.74 L399.62,197.76 L400.38,197.76 L401.14,197.77 L401.90,197.77 L402.67,197.77 L403.43,197.76 L404.19,197.75 L404.95,197.73 L405.71,197.71 L406.48,197.68 L407.24,197.64 L408.00,197.60 L408.80,197.55 L409.60,197.49 L410.40,197.42 L411.20,197.34 L412.00,197.26 L412.80,197.18 L413.60,197.09 L414.40,196.99 L415.20,196.90 L416.00,196.80 L416.80,196.70 L417.60,196.60 L418.40,196.49 L419.20,196.39 L420.00,196.28 L420.80,196.17 L421.60,196.05 L422.40,195.94 L423.20,195.82 L424.00,195.70 L424.80,195.58 L425.60,195.45 L426.40,195.32 L427.20,195.20 L428.00,195.07 L428.80,194.95 L429.60,194.83 L430.40,194.72 L431.20,194.60 L432.00,194.50 L432.75,194.41 L433.50,194.32 L434.25,194.24 L435.00,194.16 L435.75,194.09 L436.50,194.02 L437.25,193.95 L438.00,193.88 L438.75,193.81 L439.50,193.75 L440.25,193.68 L441.00,193.61 L441.75,193.54 L442.50,193.46 L443.25,193.38 L444.00,193.30 L444.75,193.21 L445.50,193.11 L446.25,193.00 L447.00,192.88 L447.75,192.73 L448.50,192.55 L449.25,192.34 L450.00,192.10 L450.82,191.79 L451.65,191.44 L452.48,191.05 L453.30,190.64 L454.12,190.20 L454.95,189.74 L455.78,189.27 L456.60,188.80" fill="none" stroke="#27314A" stroke-width="1.5"/>
<path d="M374.00,300.00 L374.75,299.87 L375.50,299.73 L376.25,299.60 L377.00,299.45 L377.75,299.31 L378.50,299.15 L379.25,298.98 L380.00,298.80 L380.75,298.61 L381.50,298.40 L382.25,298.19 L383.00,297.96 L383.75,297.73 L384.50,297.50 L385.25,297.26 L386.00,297.02 L386.75,296.79 L387.50,296.55 L388.25,296.32 L389.00,296.10 L389.75,295.88 L390.50,295.68 L391.25,295.48 L392.00,295.30 L392.75,295.13 L393.50,294.98 L394.25,294.85 L395.00,294.73 L395.75,294.62 L396.50,294.53 L397.25,294.46 L398.00,294.40 L398.75,294.35 L399.50,294.32 L400.25,294.30 L401.00,294.30 L401.75,294.31 L402.50,294.34 L403.25,294.37 L404.00,294.42 L404.75,294.47 L405.50,294.54 L406.25,294.61 L407.00,294.68 L407.75,294.76 L408.50,294.84 L409.25,294.92 L410.00,295.00 L410.77,295.08 L411.54,295.16 L412.31,295.24 L413.08,295.32 L413.85,295.41 L414.62,295.49 L415.38,295.59 L416.15,295.69 L416.92,295.79 L417.69,295.90 L418.46,296.02 L419.23,296.16 L420.00,296.30 L420.83,296.47 L421.67,296.65 L422.50,296.83 L423.33,297.02 L424.17,297.21 L425.00,297.40 L425.80,297.57 L426.60,297.74 L427.40,297.91 L428.20,298.08 L429.00,298.24 L429.80,298.42 L430.60,298.60 L431.40,298.79 L432.20,298.99 L433.00,299.20 L433.80,299.43 L434.60,299.67 L435.40,299.91 L436.20,300.17 L437.00,300.42 L437.80,300.67 L438.60,300.92 L439.40,301.16 L440.20,301.39 L441.00,301.60 L441.80,301.79 L442.60,301.97 L443.40,302.13 L444.20,302.28 L445.00,302.42 L445.80,302.54 L446.60,302.66 L447.40,302.78 L448.20,302.89 L449.00,303.00 L449.80,303.11 L450.60,303.22 L451.40,303.33 L452.20,303.44 L453.00,303.55 L453.80,303.66 L454.60,303.77 L455.40,303.88 L456.20,303.99 L457.00,304.10" fill="none" stroke="#27314A" stroke-width="1.5"/>
<line x1="130.60" x2="130.60" y1="333.65" y2="336.65" stroke="#333333" stroke-width="1.07"/>
<text transform="translate(130.60,345.9) scale(0.93,1)" text-anchor="middle" class="ax">2005</text>
<line x1="248.20" x2="248.20" y1="333.65" y2="336.65" stroke="#333333" stroke-width="1.07"/>
<text transform="translate(248.20,345.9) scale(0.93,1)" text-anchor="middle" class="ax">2010</text>
<line x1="365.80" x2="365.80" y1="333.65" y2="336.65" stroke="#333333" stroke-width="1.07"/>
<text transform="translate(365.80,345.9) scale(0.93,1)" text-anchor="middle" class="ax">2015</text>
<text x="258" y="359.5" text-anchor="middle" class="xt">Year</text>
<text x="40.5" y="374" class="cap" textLength="431" lengthAdjust="spacing">Estimates for recent periods have more uncertainty than estimates for earlier periods. Standard errors are available in Infoshare.</text>
<text x="456.7" y="391.8" class="sn" textLength="30.8" lengthAdjust="spacing">Stats NZ</text>
</svg>
</body></html>
